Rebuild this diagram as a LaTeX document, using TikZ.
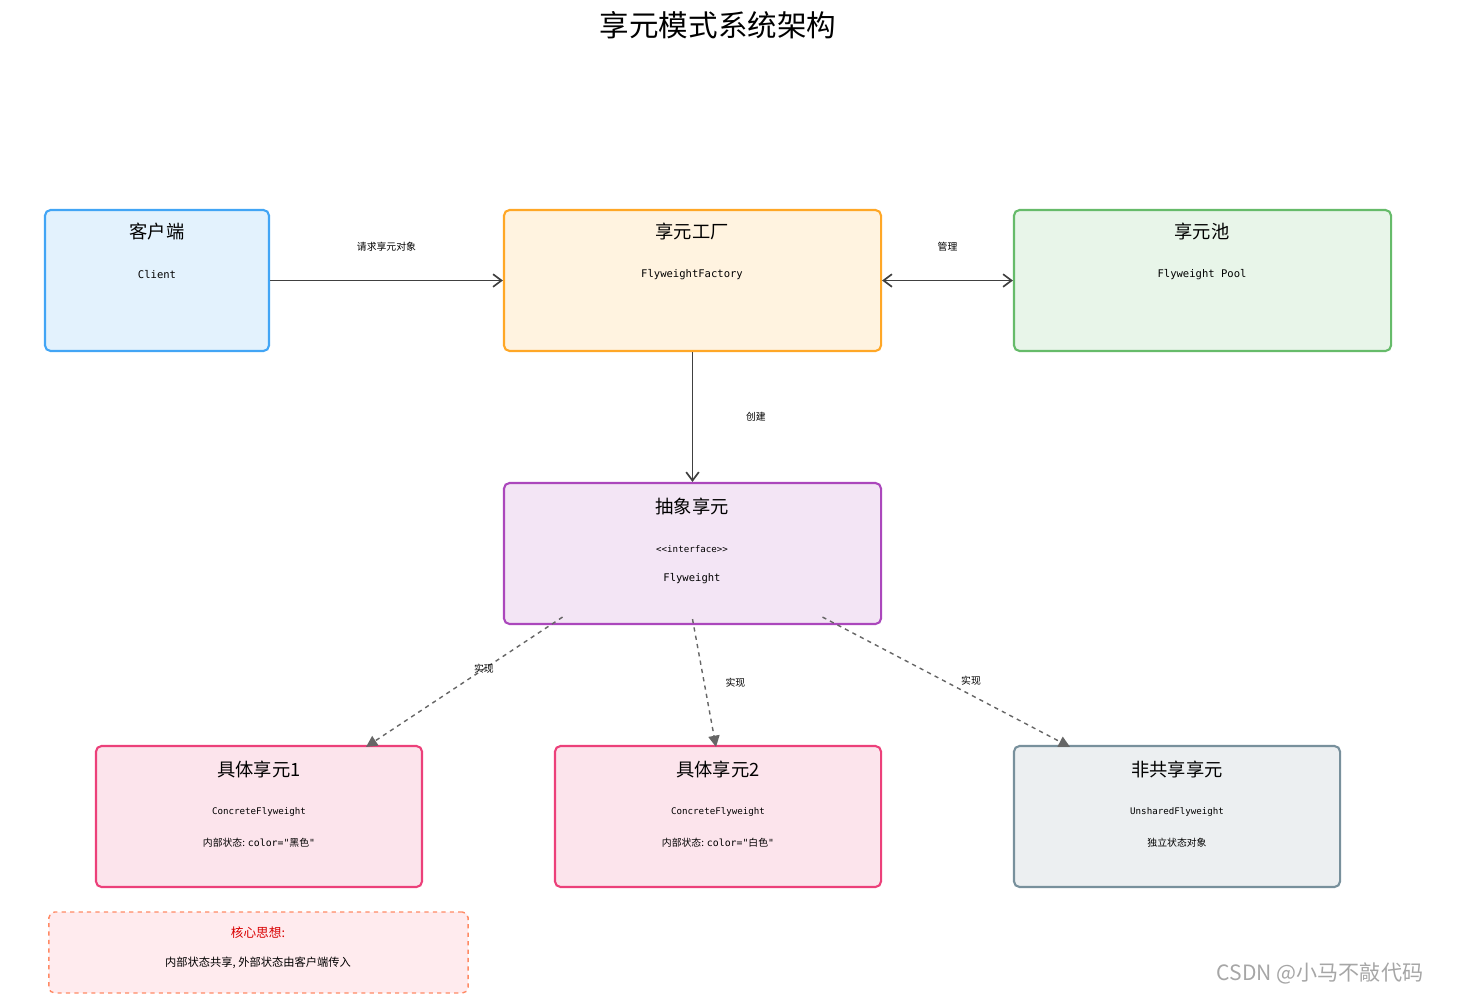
\documentclass[tikz,border=0pt]{standalone}
\usepackage{fontspec}
\setmainfont{Noto Sans CJK SC}
\newfontfamily\latinmono{DejaVu Sans Mono}
\usetikzlibrary{positioning,arrows.meta,calc}
\definecolor{cliB}{HTML}{42A5F5}\definecolor{cliF}{HTML}{E3F2FD}
\definecolor{facB}{HTML}{FFA726}\definecolor{facF}{HTML}{FFF3E0}
\definecolor{poolB}{HTML}{66BB6A}\definecolor{poolF}{HTML}{E8F5E9}
\definecolor{flyB}{HTML}{AB47BC}\definecolor{flyF}{HTML}{F3E5F5}
\definecolor{conB}{HTML}{EC407A}\definecolor{conF}{HTML}{FCE4EC}
\definecolor{unsB}{HTML}{78909C}\definecolor{unsF}{HTML}{ECEFF1}
\definecolor{noteB}{HTML}{FF8A65}\definecolor{noteF}{HTML}{FFEBEE}
\tikzset{
    box/.style = {
        draw,
        shape=rectangle,
        rounded corners=4pt,
        line width=1.5pt
    },
    title/.style = {font=\fontsize{13}{15}\selectfont},
    sub/.style = {font=\latinmono\fontsize{7.5}{9}\selectfont},
    small/.style = {font=\fontsize{7}{8}\selectfont},
    flow/.style = {line width=1.2pt, draw=black!75, -{Straight Barb[length=6pt,width=9pt]}},
    impl/.style = {line width=1pt, draw=black!60, dashed, -{Triangle[length=8pt,width=8pt]}},
}
\begin{document}
\begin{tikzpicture}[x=0.025cm,y=-0.025cm]
    \useasboundingbox (0,0) rectangle (1464,1001);
    \node[font=\fontsize{21}{24}\selectfont] (title) at (718,25) {享元模式系统架构};

    % top row
    \node[box, draw=cliB, fill=cliF, minimum width=5.6cm, minimum height=3.525cm] (client) at (157,280.5) {};
    \node[box, draw=facB, fill=facF, minimum width=9.425cm, minimum height=3.525cm] (factory) at (692.5,280.5) {};
    \node[box, draw=poolB, fill=poolF, minimum width=9.425cm, minimum height=3.525cm] (pool) at (1202.5,280.5) {};
    \node[title] at (157,232) {客户端};
    \node[sub] at (157,275) {Client};
    \node[title] at (692,232) {享元工厂};
    \node[sub] at (692,275) {FlyweightFactory};
    \node[title] at (1202,232) {享元池};
    \node[sub] at (1202,275) {Flyweight Pool};

    % interface
    \node[box, draw=flyB, fill=flyF, minimum width=9.425cm, minimum height=3.525cm] (fly) at (692.5,553.5) {};
    \node[title] at (692,506) {抽象享元};
    \node[sub, font=\latinmono\fontsize{6.5}{8}\selectfont] at (692,549) {<<interface>>};
    \node[sub] at (692,579) {Flyweight};

    % bottom row
    \node[box, draw=conB, fill=conF, minimum width=8.15cm, minimum height=3.525cm] (con1) at (259,816.5) {};
    \node[box, draw=conB, fill=conF, minimum width=8.15cm, minimum height=3.525cm] (con2) at (718,816.5) {};
    \node[box, draw=unsB, fill=unsF, minimum width=8.15cm, minimum height=3.525cm] (uns) at (1177,816.5) {};
    \node[title] at (259,769) {具体享元1};
    \node[sub, font=\latinmono\fontsize{6.5}{8}\selectfont] at (259,812) {ConcreteFlyweight};
    \node[small] at (259,843) {内部状态: {\latinmono color="}黑色{\latinmono "}};
    \node[title] at (718,769) {具体享元2};
    \node[sub, font=\latinmono\fontsize{6.5}{8}\selectfont] at (718,812) {ConcreteFlyweight};
    \node[small] at (718,843) {内部状态: {\latinmono color="}白色{\latinmono "}};
    \node[title] at (1177,769) {非共享享元};
    \node[sub, font=\latinmono\fontsize{6.5}{8}\selectfont] at (1177,812) {UnsharedFlyweight};
    \node[small] at (1177,843) {独立状态对象};

    % note
    \node[box, draw=noteB, fill=noteF, dashed, line width=1pt, minimum width=10.475cm, minimum height=2.025cm] (note) at (258.5,952.5) {};
    \node[small, text=red!85!black, font=\fontsize{9}{11}\selectfont] at (258,933) {核心思想:};
    \node[small, font=\fontsize{8}{10}\selectfont] at (258,963) {内部状态共享, 外部状态由客户端传入};

    % connectors
    \draw[flow] (client.east) -- (factory.west) node[midway, above=0.6cm, small, text=black] {请求享元对象};
    \draw[flow, {Straight Barb[length=6pt,width=9pt]}-{Straight Barb[length=6pt,width=9pt]}] (factory.east) -- (pool.west) node[midway, above=0.6cm, small, text=black] {管理};
    \draw[flow] (factory.south) -- (fly.north) node[midway, right=1.2cm, small, text=black] {创建};
    \draw[impl] ($(fly.south)+(-130,-8)$) -- ($(con1.north)+(107,2)$) node[pos=0.4, small, text=black] {实现};
    \draw[impl] ($(fly.south)+(0,-6)$) -- ($(con2.north)+(-2,2)$) node[pos=0.5, right=0.4cm, small, text=black] {实现};
    \draw[impl] ($(fly.south)+(130,-8)$) -- ($(uns.north)+(-107,2)$) node[pos=0.6, above=0.1cm, small, text=black] {实现};

    \node[text=black!35, font=\fontsize{15}{18}\selectfont] (mark) at (1320,973) {CSDN @小马不敲代码};
\end{tikzpicture}
\end{document}
